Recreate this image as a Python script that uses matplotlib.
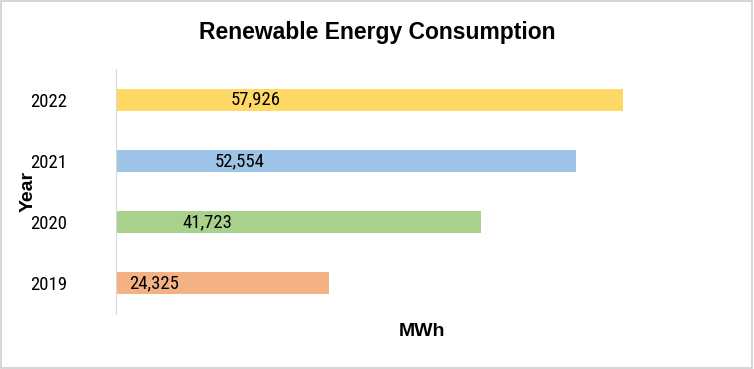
import matplotlib
matplotlib.use("Agg")
import matplotlib.pyplot as plt
from matplotlib.patches import Rectangle

years = ["2019", "2020", "2021", "2022"]
values = [24325, 41723, 52554, 57926]
colors = ["#F4B183", "#A9D18E", "#9DC3E6", "#FFD966"]

plt.rcParams['font.family'] = ['Liberation Sans', 'DejaVu Sans']
narrow = ['Roboto Condensed', 'Liberation Sans', 'DejaVu Sans']

fig = plt.figure(figsize=(7.54, 3.69), dpi=100)
ax = fig.add_axes([116/754, 1-314/369, (729-116)/754, (314-69)/369])

pos = list(range(len(years)))
ax.barh(pos, values, height=0.36, color=colors)
ax.set_xlim(0, 70000)
ax.set_ylim(-0.5, len(years) - 0.5)
ax.set_yticks(pos)
ax.set_yticklabels(years, fontsize=13.5, family=narrow)
ax.tick_params(axis='y', length=0, pad=35)
ax.set_xticks([])
for s in ["top", "right", "bottom"]:
    ax.spines[s].set_visible(False)
ax.spines["left"].set_color("#D9D9D9")
ax.spines["left"].set_linewidth(0.8)

for p, v in zip(pos, values):
    ax.text(0.347 * v - 4100, p, f"{v:,}", ha="center", va="center", fontsize=13.5,
            family=narrow, color="black")

ax.set_xlabel("MWh", fontsize=14, fontweight="bold")
ax.set_ylabel("Year", fontsize=14, fontweight="bold")
ax.yaxis.set_label_coords(-(116-37)/613, 0.5)
ax.xaxis.set_label_coords(0.5, -(323-314)/245)

fig.text(377/754, 1-32/369, "Renewable Energy Consumption", ha="center", va="center",
         fontsize=16.5, fontweight="bold")

fig.patches.append(Rectangle((0.001, 0.002), 0.997, 0.995, transform=fig.transFigure,
                             fill=False, edgecolor="#D0D0D0", linewidth=1.2))

fig.savefig("out.png", dpi=100)
